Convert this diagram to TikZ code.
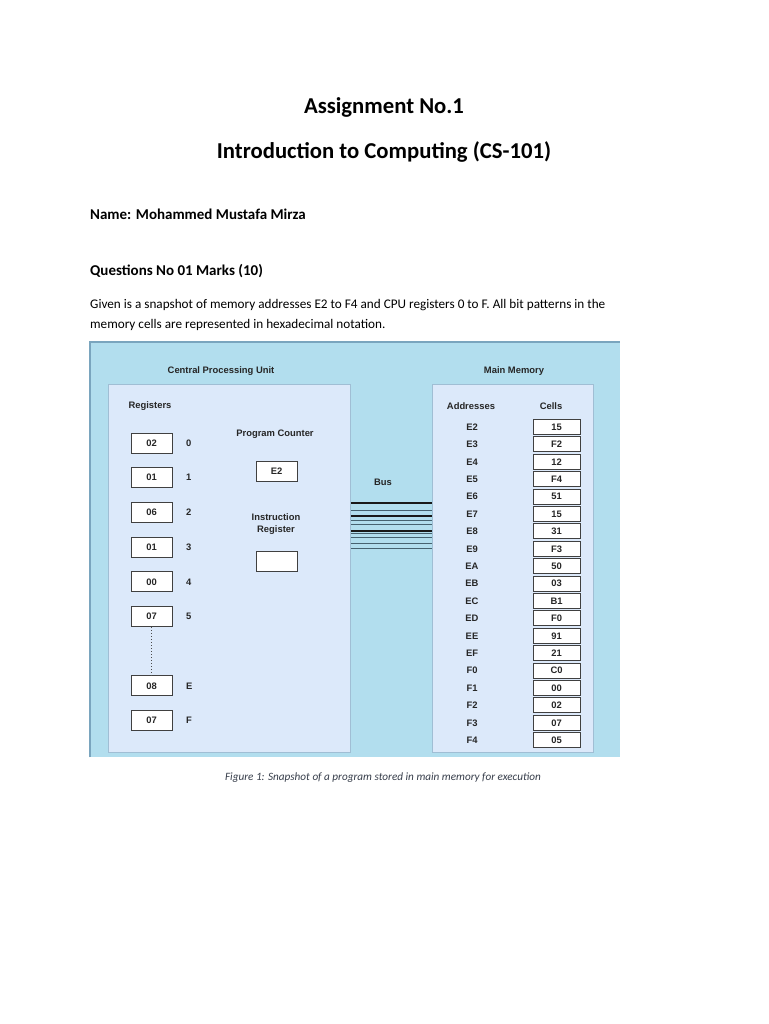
\documentclass[tikz,border=0pt]{standalone}
\usepackage{fontspec}
\setmainfont{Carlito}
\newfontfamily\diagfont{Liberation Sans}
\usetikzlibrary{positioning}
\definecolor{framebg}{RGB}{178,222,238}
\definecolor{frameedge}{RGB}{122,165,190}
\definecolor{panelbg}{RGB}{220,233,250}
\definecolor{paneledge}{RGB}{160,190,212}
\definecolor{captiongray}{RGB}{55,62,75}
\definecolor{busgray}{RGB}{70,98,112}

\begin{document}
\begin{tikzpicture}[
    x=1pt, y=-1pt,
    every node/.style={inner sep=0pt, align=center},
    heading/.style={font=\fontsize{22.7}{27}\selectfont\bfseries},
    bodytext/.style={anchor=base west, font=\fontsize{13.2}{16}\selectfont},
    boldtext/.style={anchor=base west, font=\fontsize{15}{18}\selectfont\bfseries},
    diaglabel/.style={font=\diagfont\fontsize{9.4}{11}\selectfont\bfseries, text=black!85},
    panel/.style={draw=paneledge, fill=panelbg, line width=0.8pt, anchor=north west},
    regbox/.style={draw=black!75, fill=white, line width=1pt, minimum width=41pt, minimum height=20pt, font=\diagfont\fontsize{9.4}{11}\selectfont\bfseries, text=black!85},
    cellbox/.style={draw=black!75, fill=white, line width=1pt, minimum width=47pt, minimum height=15pt, font=\diagfont\fontsize{9.4}{11}\selectfont\bfseries, text=black!85},
    busthick/.style={line width=2pt, black!90},
    busthin/.style={line width=0.9pt, busgray}
]
\fill[white] (0,0) rectangle (768,1024);
\useasboundingbox (0,0) rectangle (768,1024);

% Heading and question text
\node[heading] (assign) at (384,107) {Assignment No.1};
\node[heading] (course) at (384,152) {Introduction to Computing (CS-101)};
\node[boldtext] (name) at (90,220) {Name: Mohammed Mustafa Mirza};
\node[boldtext] (question) at (90,275) {Questions No 01 Marks (10)};
\node[bodytext] (given1) at (90,308) {Given is a snapshot of memory addresses E2 to F4 and CPU registers 0 to F. All bit patterns in the};
\node[bodytext] (given2) at (90,328) {memory cells are represented in hexadecimal notation.};

% Figure frame and panels
\node[fill=framebg, minimum width=530pt, minimum height=415pt, anchor=north west] (frame) at (90,342) {};
\draw[frameedge, line width=1.5pt] (frame.south west) -- (frame.north west) -- (frame.north east);
\node[panel, minimum width=242pt, minimum height=368pt] (cpu) at (108,384) {};
\node[panel, minimum width=161pt, minimum height=368pt] (mem) at (432,384) {};
\node[diaglabel] (cputitle) at (221,371) {Central Processing Unit};
\node[diaglabel] (memtitle) at (514,371) {Main Memory};

% CPU
\node[diaglabel] (regtitle) at (150,406) {Registers};
\foreach \val/\idx/\row in {02/0/0, 01/1/1, 06/2/2, 01/3/3, 00/4/4, 07/5/5, 08/E/7, 07/F/8} {
    \node[regbox] (reg\idx) at (151.5,{443+34.7*\row}) {\val};
    \node[diaglabel, right=13.5pt of reg\idx] (regno\idx) {\idx};
}
\draw[dotted, line width=1pt, black!70] (reg5.south) -- (regE.north);

\node[diaglabel] (pctitle) at (275,434) {Program Counter};
\node[regbox] (pc) at (276.5,471) {E2};
\node[diaglabel, font=\diagfont\fontsize{9.4}{12}\selectfont\bfseries] (irtitle) at (276,524) {Instruction\\Register};
\node[regbox] (ir) at (276.5,561.5) {};

% Bus
\node[diaglabel] (bus) at (383,482) {Bus};
\foreach \y/\s in {502.5/busthick, 510.5/busthin, 515.5/busthick, 520/busthin, 524.5/busthin, 530.5/busthick, 533/busthin, 537/busthin, 543/busthin, 548.5/busthin} {
    \path (0,\y) coordinate (busy);
    \draw[\s] (cpu.east |- busy) -- (mem.west |- busy);
}

% Main memory
\node[diaglabel] (addrtitle) at (471,406) {Addresses};
\node[diaglabel] (celltitle) at (551,406) {Cells};
\foreach \addr/\cell [count=\i from 0] in {E2/15, E3/F2, E4/12, E5/F4, E6/51, E7/15, E8/31, E9/F3, EA/50, EB/03, EC/B1, ED/F0, EE/91, EF/21, F0/C0, F1/00, F2/02, F3/07, F4/05} {
    \node[diaglabel] (addr\addr) at (472,{427+17.4*\i}) {\addr};
    \node[cellbox] (cell\addr) at (556.5,{427+17.4*\i}) {\cell};
}

% Caption
\node[font=\fontsize{11.2}{13}\selectfont\itshape, text=captiongray] (caption) at (383,778) {Figure 1: Snapshot of a program stored in main memory for execution};

\end{tikzpicture}
\end{document}
